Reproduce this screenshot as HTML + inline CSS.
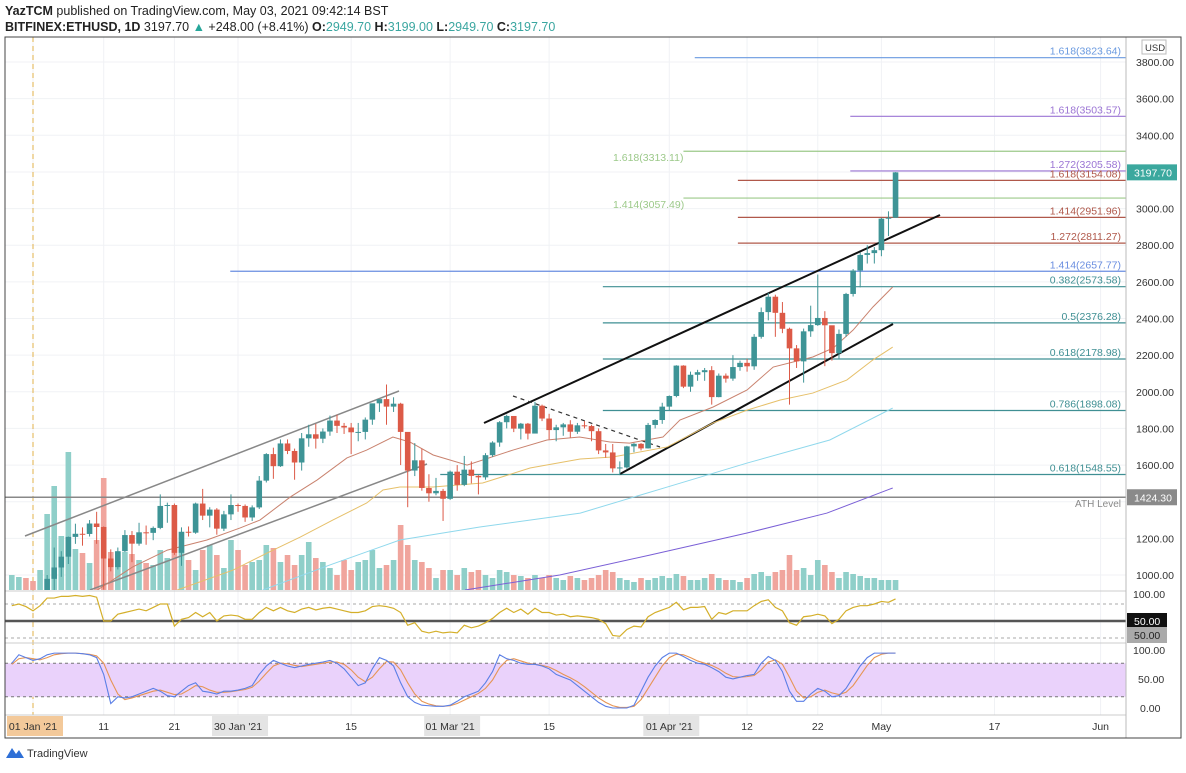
<!DOCTYPE html>
<html><head><meta charset="utf-8"><style>
body{margin:0;background:#fff;width:1186px;height:768px;overflow:hidden;font-family:"Liberation Sans",sans-serif}
svg text{font-family:"Liberation Sans",sans-serif}
</style></head><body>
<svg id="c" width="1186" height="768" xmlns="http://www.w3.org/2000/svg">
<text x="5" y="15" font-size="12.5" fill="#222"><tspan font-weight="bold">YazTCM</tspan> published on TradingView.com, May 03, 2021 09:42:14 BST</text>
<text x="5" y="31" font-size="12.5" fill="#222"><tspan font-weight="bold">BITFINEX:ETHUSD, 1D</tspan> 3197.70 <tspan fill="#26a69a">▲</tspan> +248.00 (+8.41%) <tspan font-weight="bold">O:</tspan><tspan fill="#3aa6a0">2949.70</tspan> <tspan font-weight="bold">H:</tspan><tspan fill="#3aa6a0">3199.00</tspan> <tspan font-weight="bold">L:</tspan><tspan fill="#3aa6a0">2949.70</tspan> <tspan font-weight="bold">C:</tspan><tspan fill="#3aa6a0">3197.70</tspan></text>
<g id="grid"></g>
<g id="vol"></g>
<g id="ann"></g>
<g id="mas"></g>
<g id="candles"></g>
<g id="ind"></g>
<g id="axes"></g>
<rect x="5" y="37" width="1176" height="701" fill="none" stroke="#444" stroke-width="1"/>
<g><path d="M6 758 L12 748 L16 754 L19 750 L24 758 Z" fill="#2e6fd6"/><text x="27" y="757" font-size="11" fill="#333">TradingView</text></g>
</svg>
<script>
const closes=[731,751,737,730,775,979,1041,1100,1208,1225,1224,1281,1262,1090,1043,1130,1218,1171,1233,1230,1257,1377,1382,1121,1236,1231,1390,1324,1357,1253,1331,1382,1377,1314,1369,1515,1660,1594,1718,1677,1614,1746,1768,1744,1783,1843,1814,1805,1779,1781,1848,1937,1960,1919,1935,1781,1570,1626,1475,1446,1459,1416,1564,1492,1575,1541,1533,1654,1723,1834,1868,1799,1826,1772,1924,1854,1791,1806,1822,1782,1817,1813,1785,1680,1669,1582,1587,1702,1716,1691,1819,1846,1919,1977,2143,2028,2093,2107,2118,1971,2088,2072,2135,2158,2139,2300,2435,2519,2431,2344,2237,2166,2330,2364,2403,2363,2211,2316,2534,2662,2747,2757,2773,2945,2950,3197.7];
const highs=[740,755,754,749,787,1000,1150,1130,1210,1280,1260,1300,1345,1265,1140,1150,1245,1240,1285,1270,1265,1440,1395,1390,1260,1265,1395,1470,1370,1365,1350,1440,1390,1385,1380,1540,1665,1695,1740,1740,1690,1775,1820,1825,1800,1870,1875,1830,1830,1830,1860,1935,1945,2040,1970,1940,1780,1720,1690,1550,1530,1470,1570,1600,1650,1620,1545,1665,1730,1840,1875,1860,1830,1830,1945,1930,1880,1820,1830,1845,1830,1840,1820,1800,1715,1715,1620,1705,1720,1720,1830,1850,1940,1980,2145,2145,2110,2120,2130,2140,2100,2100,2200,2170,2180,2315,2460,2540,2530,2490,2350,2255,2345,2470,2640,2440,2350,2340,2540,2670,2760,2800,2790,2950,2985,3199];
const lows=[710,715,715,716,715,775,895,990,1060,1170,1160,1210,1170,920,1020,1030,1125,1070,1160,1165,1190,1250,1285,1110,1050,1210,1225,1300,1260,1220,1240,1300,1345,1290,1295,1360,1505,1525,1590,1660,1520,1570,1700,1690,1720,1760,1775,1770,1660,1730,1740,1820,1890,1820,1890,1600,1370,1540,1460,1400,1435,1295,1410,1460,1485,1500,1440,1520,1645,1700,1800,1780,1740,1740,1780,1840,1740,1730,1760,1750,1770,1800,1730,1660,1640,1560,1545,1580,1670,1680,1690,1800,1825,1900,1970,2020,2000,2060,2060,1930,1970,2050,2060,2115,2110,2120,2290,2390,2300,2320,1930,2130,2050,2300,2360,2140,2170,2180,2300,2520,2570,2700,2700,2740,2850,2949.7];
const volumes=[15,13,12,9,20,76,104,54,138,41,37,27,50,112,38,38,38,36,30,27,25,40,32,51,44,30,20,40,45,35,22,50,40,25,28,30,45,42,28,35,25,35,48,32,28,22,15,30,20,28,30,40,22,25,30,65,45,30,28,22,12,20,20,15,22,18,20,15,12,20,18,15,14,12,15,12,15,12,10,14,12,10,12,15,20,18,12,10,8,12,10,12,14,12,16,14,10,10,12,16,12,10,10,8,12,16,18,14,18,20,35,20,22,15,30,25,18,12,18,16,14,12,12,10,10,10];
const rsi=[68,70,67,62,68,77,77,79,79,80,79,80,78,50,50,58,60,62,64,62,66,70,70,44,52,54,60,55,60,50,56,57,56,52,52,60,66,62,66,62,60,64,66,63,65,66,64,62,60,60,62,67,68,67,65,60,45,48,38,36,38,36,37,36,45,42,44,48,53,60,65,60,64,58,65,60,60,57,58,55,56,55,54,52,47,33,32,40,44,43,55,60,63,66,72,63,66,66,67,52,60,58,62,62,62,68,73,75,66,62,48,45,55,56,58,56,47,52,62,66,68,68,70,73,72,76];
const stochK=[80,95,90,85,88,95,98,98,98,98,97,95,90,60,8,20,18,20,25,30,35,30,22,20,30,40,45,30,28,25,30,30,32,35,40,60,75,85,80,75,72,75,78,80,82,85,80,70,55,40,45,70,90,85,75,45,20,10,5,4,3,3,5,12,20,25,30,45,65,95,88,85,80,78,78,75,70,60,55,50,40,30,20,10,3,0,0,0,5,30,55,75,90,98,98,92,85,80,78,72,65,55,52,55,58,60,80,92,85,65,30,12,12,25,35,30,20,22,35,55,75,90,98,98,98,98];
const stochD=[78,88,90,88,86,90,95,97,98,98,97,96,93,80,50,25,15,18,22,26,30,32,28,24,25,32,40,38,32,28,28,29,31,33,37,48,62,75,80,79,76,74,76,78,80,82,82,78,68,55,47,55,70,83,82,68,45,25,12,7,4,3,4,8,14,20,26,35,50,72,85,88,84,80,78,76,73,67,60,54,47,38,28,18,10,4,1,1,3,15,35,55,75,90,96,95,90,84,80,76,70,62,56,55,56,58,68,82,86,78,55,30,18,20,28,32,27,24,28,40,58,76,90,96,98,98];
const ma20Days=[9.1,14.1,19,24.6,29.3,32.1,36.4,40.2,44.4,47.2,50.9,53.3,56.6,61.4,67.9,72.7,77.3,81.6,84.4,89.1,91.5,96.2,101,104.7,110.3,113.2,116,118.8,121.6];
const ma20Vals=[918,1044,1136,1191,1257,1300,1426,1519,1639,1682,1753,1726,1655,1600,1682,1737,1753,1726,1720,1753,1846,1917,2010,2135,2190,2239,2337,2463,2572];
const ma50Days=[20.4,28.3,33.1,37.8,42.4,47.2,49.5,51.9,56.6,63.6,70.3,77.4,82,89.7,96.2,101,105.7,110.3,115.1,118.8,121.6];
const ma50Vals=[918,1027,1120,1207,1300,1393,1464,1480,1480,1502,1584,1633,1644,1699,1830,1900,1955,1993,2064,2174,2244];
const ma100Days=[32.5,42,51.9,63.2,77.4,89.7,101,112.7,121.6];
const ma100Vals=[918,1055,1191,1262,1338,1480,1611,1737,1911];
const ma200Days=[61.1,74.5,87.3,101,112.3,121.6];
const ma200Vals=[918,1000,1109,1229,1338,1475];
const priceTicks=[3800,3600,3400,3000,2800,2600,2400,2200,2000,1800,1600,1200,1000];
const dateTickDays=[0,10,20,29,45,59,73,90,101,111,120,136,151];
const dateTickLabels=["01 Jan '21","11","21","30 Jan '21","15","01 Mar '21","15","01 Apr '21","12","22","May","17","Jun"];
const fibPrices=[3823.64,3503.57,3313.11,3205.58,3154.08,3057.49,2951.96,2811.27,2657.77,2573.58,2376.28,2178.98,1898.08,1548.55];
const fibLabels=["1.618","1.618","1.618","1.272","1.618","1.414","1.414","1.272","1.414","0.382","0.5","0.618","0.786","0.618"];
const fibStartDays=[93.6,115.6,92,115.6,99.7,92,99.7,99.7,27.9,80.6,80.6,80.6,80.6,57.6];
const fibColors=["#6a9ae0","#9b74d4","#9cc98a","#9b74d4","#b0584a","#9cc98a","#b0584a","#b0584a","#6a8ee0","#3f8f93","#3f8f93","#3f8f93","#3f8f93","#3f8f93"];
const fibLeftLabel=[0,0,1,0,0,1,0,0,0,0,0,0,0,0];

const NS="http://www.w3.org/2000/svg";
const X=d=>33+d*7.07, Y=p=>575-(p-1000)*0.18321;
const RY=v=>621-(v-50)*0.85, SY=v=>708-v*0.56;
function mk(tag,attrs,parent){const e=document.createElementNS(NS,tag);for(const k in attrs)e.setAttribute(k,attrs[k]);parent.appendChild(e);return e;}
const G=id=>document.getElementById(id);
// clip
const defs=mk('defs',{},G('c'));const cp=mk('clipPath',{id:'mainclip'},defs);mk('rect',{x:5,y:37,width:1121,height:553},cp);
['vol','ann','mas','candles'].forEach(id=>G(id).setAttribute('clip-path','url(#mainclip)'));
// grid
const grid=G('grid');
priceTicks.concat([1400,3200]).forEach(p=>{const l=mk('line',{x1:5,x2:1126,y1:Y(p),y2:Y(p),stroke:'#f0f2f5'},grid);

});
dateTickDays.forEach(d=>{const l=mk('line',{x1:X(d),x2:X(d),y1:37,y2:715,stroke:'#f0f2f5'},grid);

});
const vd=mk('line',{x1:33,x2:33,y1:37,y2:715,stroke:'#e2b04a','stroke-dasharray':'5,4'},grid);


// volumes
const vol=G('vol');
volumes.forEach((v,i)=>{const o=i?closes[i-1]:closes[0];const up=closes[i]>=o;const r=mk('rect',{x:X(i-3)-2.8,y:590-v,width:5.6,height:v,fill:up?'#8fcfc9':'#f0a59d'},vol);

});
// annotations
const ann=G('ann');
const ath=mk('line',{x1:5,x2:1126,y1:Y(1424.3),y2:Y(1424.3),stroke:'#888','stroke-width':1.5},ann);


fibPrices.forEach((p,i)=>{const y=Y(p);
const l=mk('line',{x1:X(fibStartDays[i]),x2:1126,y1:y,y2:y,stroke:fibColors[i],'stroke-width':1.2},ann);


const t=mk('text',{'font-size':10.5,fill:fibColors[i]},ann);
if(fibLeftLabel[i]){t.setAttribute('x',613);t.setAttribute('y',y+10);}else{t.setAttribute('x',1121);t.setAttribute('y',y-3);t.setAttribute('text-anchor','end');}
t.textContent=fibLabels[i]+'('+p.toFixed(2)+')';

});
const athT=mk('text',{x:1121,y:507,'font-size':10,fill:'#888','text-anchor':'end'},ann);athT.textContent='ATH Level';


// trend lines
function tl(x1,y1,x2,y2,st,w,dash,name){const l=mk('line',{x1,y1,x2,y2,stroke:st,'stroke-width':w},ann);if(dash)l.setAttribute('stroke-dasharray',dash);

}
tl(25,536,399,391,'#888',1.5,null,'old-channel-upper');
tl(90,590,427,464,'#888',1.5,null,'old-channel-lower');
tl(484,423,940,215,'#111',2,null,'channel-upper');
tl(620,474,893,324,'#111',2,null,'channel-lower');
tl(513,396,660,447,'#333',1.2,'4,4','falling-trendline');
// MAs
const mas=G('mas');
function maLine(days,vals,col,name){const pts=days.map((d,i)=>X(d)+','+Y(vals[i])).join(' ');const p=mk('polyline',{points:pts,fill:'none',stroke:col,'stroke-width':1},mas);

}
maLine(ma20Days,ma20Vals,'#c9826e','ma-20');
maLine(ma50Days,ma50Vals,'#e6c06a','ma-50');
maLine(ma100Days,ma100Vals,'#8fd8ec','ma-100');
maLine(ma200Days,ma200Vals,'#7a5fd6','ma-200');
// candles
const cg=G('candles');
closes.forEach((c,i)=>{const o=i?closes[i-1]:closes[0];const up=c>=o;const col=up?'#3e9496':'#dc5a47';const x=X(i-3);
const w=mk('line',{x1:x,x2:x,y1:Y(highs[i]),y2:Y(lows[i]),stroke:col,'stroke-width':1},cg);


const top=Y(Math.max(o,c)),bot=Y(Math.min(o,c));
const b=mk('rect',{x:x-2.8,y:top,width:5.6,height:Math.max(1,bot-top),fill:col},cg);

});
// indicators
const ind=G('ind');
function hl(y,st,w,dash){const l=mk('line',{x1:5,x2:1126,y1:y,y2:y,stroke:st,'stroke-width':w},ind);if(dash)l.setAttribute('stroke-dasharray',dash);return l;}
let s=hl(591,'#ccc',1);

s=hl(643,'#ccc',1);

s=hl(RY(70),'#aaa',1,'3,3');

s=hl(RY(30),'#aaa',1,'3,3');

s=hl(RY(50),'#555',2.5);

const band=mk('rect',{x:5,y:SY(80),width:1121,height:SY(20)-SY(80),fill:'#ead2fb'},ind);


s=hl(SY(80),'#777',1,'3,3');

s=hl(SY(20),'#777',1,'3,3');

s=hl(715,'#ccc',1);

const rl=mk('polyline',{points:rsi.map((v,i)=>X(i-3)+','+RY(v)).join(' '),fill:'none',stroke:'#d4af2a','stroke-width':1.2},ind);


const dl=mk('polyline',{points:stochD.map((v,i)=>X(i-3)+','+SY(v)).join(' '),fill:'none',stroke:'#e69555','stroke-width':1.1},ind);


const kl=mk('polyline',{points:stochK.map((v,i)=>X(i-3)+','+SY(v)).join(' '),fill:'none',stroke:'#5b7fe6','stroke-width':1.1},ind);


// axes
const ax=G('axes');
const sep=mk('line',{x1:1126,x2:1126,y1:37,y2:738,stroke:'#bbb'},ax);


function lbl(x,y,t,name,opts){const e=mk('text',Object.assign({x,y,'font-size':10.5,fill:'#333'},opts||{}),ax);e.textContent=t;

return e;}
priceTicks.forEach(p=>lbl(1136,Y(p)+4,p.toFixed(2),'price-tick-label'));
function tag(y,txt,bg,fg,name,w){const r=mk('rect',{x:1127,y:y-8,width:w||50,height:16,fill:bg},ax);


lbl(1134,y+4,txt,name,{fill:fg});}
tag(Y(3197.7),'3197.70','#3ba89e','#fff','last-price-tag');
tag(Y(1424.3),'1424.30','#8a8a8a','#fff','ath-price-tag');
const usd=mk('rect',{x:1142,y:40,width:24,height:14,fill:'#fff',stroke:'#bbb'},ax);


lbl(1145,51,'USD','currency-label',{'font-size':9.5});
lbl(1133,598,'100.00','rsi-tick-label');
tag(621,'50.00','#111','#fff','rsi-50-tag',40);
tag(635,'50.00','#aaa','#222','rsi-value-tag',40);
lbl(1133,654,'100.00','stoch-tick-label');
lbl(1138,683,'50.00','stoch-tick-label');
lbl(1140,712,'0.00','stoch-tick-label');
dateTickDays.forEach((d,i)=>{const t=dateTickLabels[i];const x=X(d);
if(t.length>4){const r=mk('rect',{x:x-26,y:716,width:56,height:20,fill:i===0?'#f3c99a':'#e4e4e4'},ax);

}
lbl(x,730,t,'date-tick-label',{'text-anchor':'middle'});});
</script>
</body></html>
